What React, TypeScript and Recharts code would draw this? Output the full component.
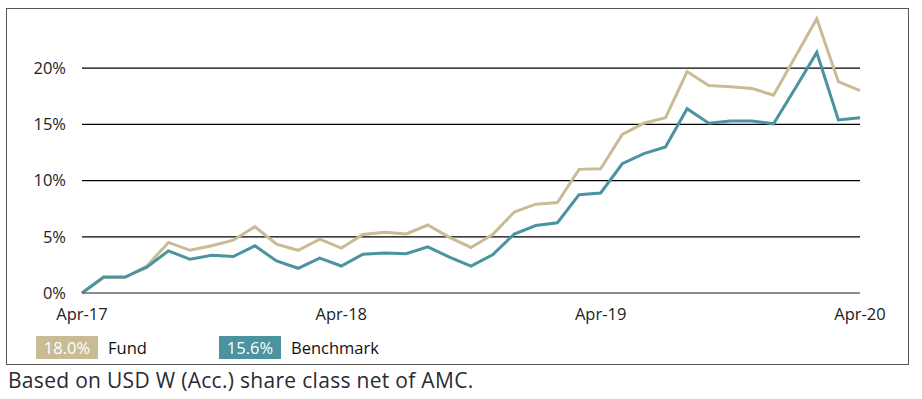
import React from 'react';
import { LineChart, Line, XAxis, YAxis, ReferenceLine } from 'recharts';

const months = [
  'Apr-17','May-17','Jun-17','Jul-17','Aug-17','Sep-17','Oct-17','Nov-17','Dec-17','Jan-18','Feb-18','Mar-18',
  'Apr-18','May-18','Jun-18','Jul-18','Aug-18','Sep-18','Oct-18','Nov-18','Dec-18','Jan-19','Feb-19','Mar-19',
  'Apr-19','May-19','Jun-19','Jul-19','Aug-19','Sep-19','Oct-19','Nov-19','Dec-19','Jan-20','Feb-20','Mar-20',
  'Apr-20',
];
const fund = [
  0, 1.37, 1.4, 2.4, 4.5, 3.8, 4.2, 4.7, 5.9, 4.35, 3.8, 4.8,
  4.0, 5.2, 5.4, 5.25, 6.05, 4.95, 4.05, 5.2, 7.2, 7.9, 8.05, 11.0,
  11.05, 14.1, 15.1, 15.6, 19.7, 18.45, 18.35, 18.2, 17.6, 21.0, 24.4, 18.8,
  18.0,
];
const benchmark = [
  0, 1.42, 1.42, 2.3, 3.75, 3.0, 3.35, 3.25, 4.2, 2.85, 2.2, 3.1,
  2.4, 3.45, 3.55, 3.5, 4.1, 3.2, 2.4, 3.4, 5.25, 6.0, 6.25, 8.75,
  8.9, 11.5, 12.4, 13.0, 16.4, 15.1, 15.3, 15.3, 15.05, 18.2, 21.4, 15.4,
  15.6,
];
const yTicks = [0, 5, 10, 15, 20];
const legendItems = [
  { label: 'Fund', value: '18.0%', color: '#C9BC94' },
  { label: 'Benchmark', value: '15.6%', color: '#4A939F' },
];
const caption = 'Based on USD W (Acc.) share class net of AMC.';

const data = months.map((m, i) => ({ month: m, fund: fund[i], benchmark: benchmark[i] }));

const FONT = '"Open Sans", "Liberation Sans", Arial, sans-serif';

export default function App() {
  return (
    <div style={{ position: 'absolute', left: 0, top: 0, width: 922, height: 399, fontFamily: FONT, background: '#fff' }}>
      <div style={{ position: 'absolute', left: 6, top: 8, width: 901, height: 355, border: '1.5px solid #555' }} />
      <div style={{ position: 'absolute', left: 0, top: 0 }}>
        <LineChart width={922} height={330} data={data} margin={{ top: 12, right: 62, left: 0, bottom: 7 }}>
          {yTicks.filter((t) => t > 0).map((t) => (
            <ReferenceLine key={t} y={t} stroke="#000" strokeWidth={1.2} />
          ))}
          <XAxis
            dataKey="month"
            interval={11}
            height={30}
            tickSize={0}
            tickMargin={15}
            axisLine={{ stroke: '#666', strokeWidth: 1.5 }}
            tickLine={false}
            tick={{ fill: '#222', fontSize: 16.5, fontFamily: FONT }}
          />
          <YAxis
            width={82}
            domain={[0, 25]}
            ticks={yTicks}
            tickFormatter={(v: number) => `${v}%`}
            axisLine={false}
            tickLine={false}
            tickSize={0}
            tickMargin={16}
            tick={{ fill: '#222', fontSize: 16.5, fontFamily: FONT }}
          />
          <Line type="linear" dataKey="fund" stroke="#C9BC94" strokeWidth={3} dot={false} isAnimationActive={false} />
          <Line type="linear" dataKey="benchmark" stroke="#4A939F" strokeWidth={3} dot={false} isAnimationActive={false} />
        </LineChart>
      </div>
      {legendItems.map((it, i) => (
        <div key={it.label} style={{ position: 'absolute', left: 36 + i * 183, top: 336, display: 'flex', alignItems: 'center', height: 23 }}>
          <div style={{ width: 62, height: 23, background: it.color, color: '#fff', fontSize: 16.5, display: 'flex', alignItems: 'center', justifyContent: 'center' }}>
            {it.value}
          </div>
          <div style={{ marginLeft: 10, fontSize: 16.5, color: '#111' }}>{it.label}</div>
        </div>
      ))}
      <div style={{ position: 'absolute', left: 8, top: 366, fontSize: 21, letterSpacing: 0.3, color: '#2a2a33', whiteSpace: 'nowrap' }}>{caption}</div>
    </div>
  );
}
